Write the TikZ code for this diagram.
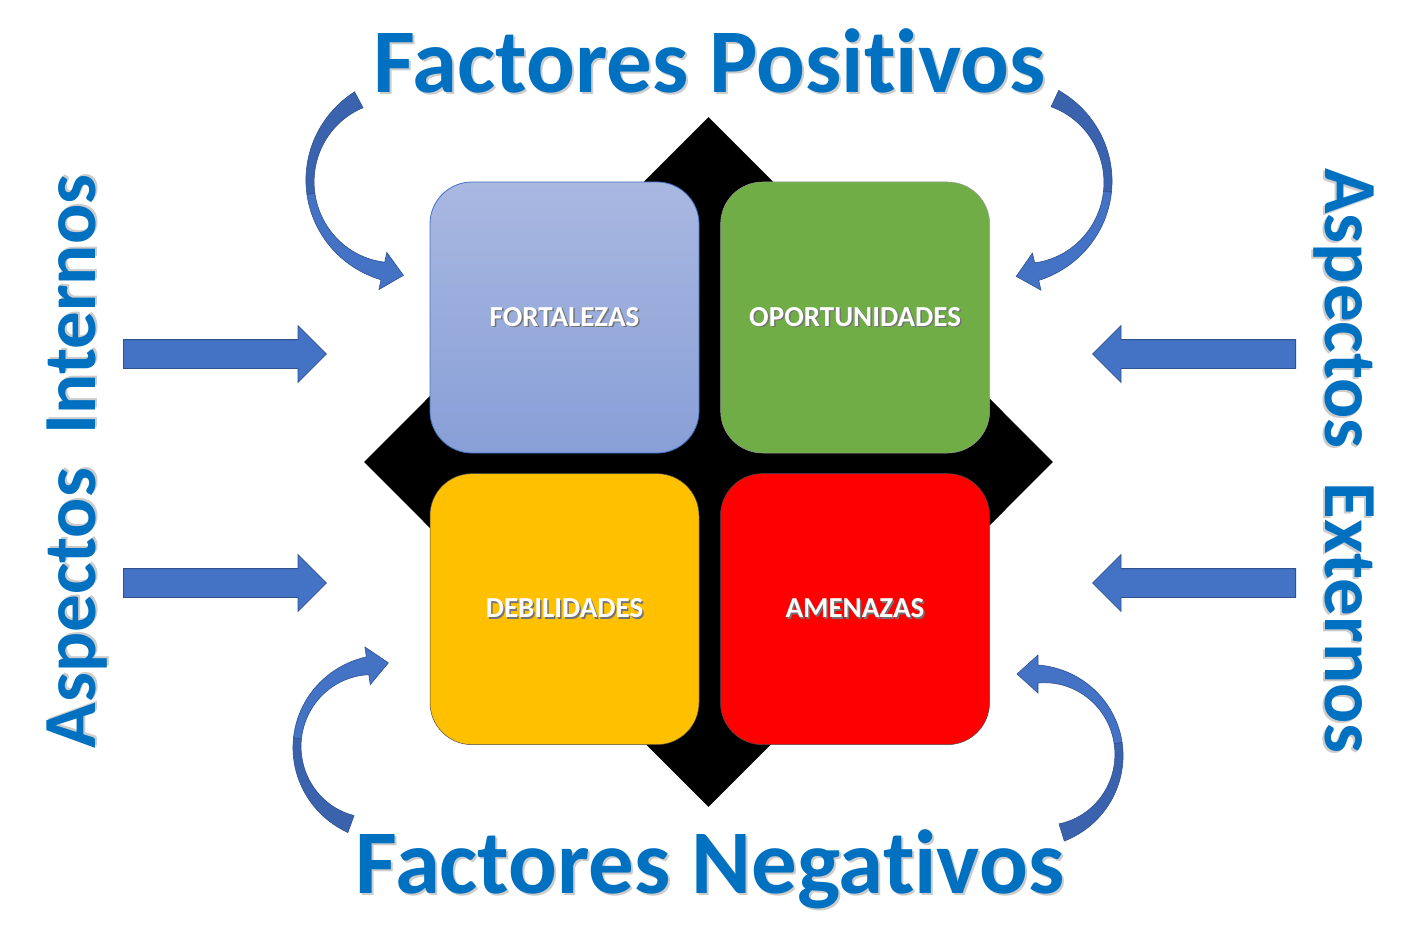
\documentclass[tikz,border=0pt]{standalone}
\usepackage{fontspec}
\newfontfamily\calibri[Ligatures={NoCommon,NoRare}]{Carlito}
\usetikzlibrary{positioning, shapes.geometric, shapes.arrows}

\definecolor{titleblue}{HTML}{0070C0}
\definecolor{arrowblue}{HTML}{4472C4}
\definecolor{arrowdark}{HTML}{3B63AD}
\definecolor{arrowline}{HTML}{2F528F}
\definecolor{fortop}{HTML}{A9B8E1}
\definecolor{forbot}{HTML}{889FD7}
\definecolor{opgreen}{HTML}{70AD47}
\definecolor{debyellow}{HTML}{FFC000}
\definecolor{amred}{HTML}{FF0000}

% text with a small offset shadow
\newcommand{\shadowed}[3]{\makebox[0pt][l]{\hspace{#3}\raisebox{-#3}{\textcolor{#2}{#1}}}#1}

% curved arrow: centre x, centre y, radius, tail angle, head angle
\newcommand{\bentarrow}[5]{%
  \pgfmathsetmacro{\bmid}{(#4+#5)/2}%
  \pgfmathsetmacro{\bsgn}{sign(#5-#4)}%
  \filldraw[bent_back]
    plot[domain=#4:\bmid] ({#1+(#3+hw(\x,#4,#5))*cos(\x)}, {#2+(#3+hw(\x,#4,#5))*sin(\x)})
    -- plot[domain=\bmid:#4] ({#1+(#3-hw(\x,#4,#5))*cos(\x)}, {#2+(#3-hw(\x,#4,#5))*sin(\x)})
    -- cycle;
  \filldraw[bent_front]
    plot[domain=\bmid:#5] ({#1+(#3+hw(\x,#4,#5))*cos(\x)}, {#2+(#3+hw(\x,#4,#5))*sin(\x)})
    -- ({#1+(#3+19)*cos(#5)}, {#2+(#3+19)*sin(#5)})
    -- ({#1+#3*cos(#5)-\bsgn*21*sin(#5)}, {#2+#3*sin(#5)+\bsgn*21*cos(#5)})
    -- ({#1+(#3-19)*cos(#5)}, {#2+(#3-19)*sin(#5)})
    -- plot[domain=#5:\bmid] ({#1+(#3-hw(\x,#4,#5))*cos(\x)}, {#2+(#3-hw(\x,#4,#5))*sin(\x)})
    -- cycle;
}

\begin{document}
\begin{tikzpicture}[
    x=1pt, y=-1pt,
    declare function={hw(\qt,\qa,\qb)=4+5*((2*\qt-\qa-\qb)/(\qb-\qa))*((2*\qt-\qa-\qb)/(\qb-\qa));},
    quad/.style={rectangle, rounded corners=42pt, minimum width=269pt, minimum height=271pt, inner sep=0pt,
        text=white, font=\calibri\bfseries\fontsize{29}{31}\selectfont},
    title/.style={anchor=base, inner sep=0pt, text=titleblue, font=\calibri\bfseries\fontsize{91}{91}\selectfont},
    side/.style={anchor=base, inner sep=0pt, text=titleblue, font=\calibri\bfseries\fontsize{75}{75}\selectfont},
    straight/.style={single arrow, fill=arrowblue, draw=arrowline, line width=0.8pt, inner sep=0pt,
        text height=14pt, text depth=14pt, minimum height=203pt, single arrow head extend=14pt, anchor=tail},
    bent_back/.style={fill=arrowdark, draw=arrowline, line width=0.6pt},
    bent_front/.style={fill=arrowblue, draw=arrowline, line width=0.6pt},
    ]
    \useasboundingbox[fill=white] (0,0) rectangle (1419,925);
    % Black diamond behind the boxes
    \node[diamond, fill=black, minimum width=689pt, minimum height=690pt, inner sep=0pt] (base) at (708.5,462) {};
    % Boxes
    \node[quad, draw=arrowblue, line width=0.8pt, top color=fortop, bottom color=forbot] (fort) at (564.5,317.5) {\shadowed{FORTALEZAS}{black!55}{1.5pt}};
    \node[quad, draw=black!40, line width=0.5pt, fill=opgreen, right=21pt of fort] (oport) {\shadowed{OPORTUNIDADES}{black!55}{1.5pt}};
    \node[quad, draw=black!70, line width=0.5pt, fill=debyellow, below=20pt of fort] (debil) {\shadowed{DEBILIDADES}{black!55}{1.5pt}};
    \node[quad, draw=black!70, line width=0.5pt, fill=amred, right=21pt of debil] (amen) {\shadowed{AMENAZAS}{black!55}{1.5pt}};
    % Titles
    \node[title] (pos_title) at (709.5,93) {\shadowed{Factores Positivos}{black!20}{2pt}};
    \node[title] (neg_title) at (710,893) {\shadowed{Factores Negativos}{black!20}{2pt}};
    \node[side, rotate=90] (int_title) at (95,461.5) {\shadowed{Aspectos\ \ Internos}{black!20}{2pt}};
    \node[side, rotate=-90] (ext_title) at (1325,461) {\shadowed{Aspectos\ \ Externos}{black!20}{2pt}};
    % Straight arrows
    \node[straight] (in_top) at (123,354) {};
    \node[straight] (in_bot) at (123,583) {};
    \node[straight, shape border rotate=180] (ex_top) at (1296,354) {};
    \node[straight, shape border rotate=180] (ex_bot) at (1296,583) {};
    % Curved arrows
    \bentarrow{402}{181}{92}{242}{102}
    \bentarrow{1016}{182}{92}{-65}{77}
    \bentarrow{379}{747}{82}{110}{262}
    \bentarrow{1038}{755}{81}{73}{-90}
\end{tikzpicture}
\end{document}
